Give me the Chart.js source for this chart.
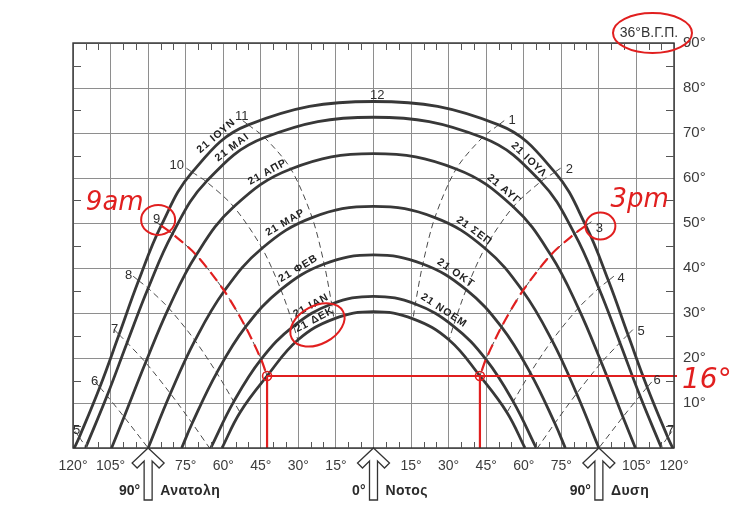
<!DOCTYPE html>
<html lang="el">
<head>
<meta charset="utf-8">
<title>Ηλιακός χάρτης 36° Β.Γ.Π.</title>
<script src="https://cdn.jsdelivr.net/npm/chart.js@4.4.1/dist/chart.umd.min.js"></script>
<style>
  html, body { margin: 0; padding: 0; background: #fff; }
  canvas { display: block; }
</style>
</head>
<body>
<canvas id="chart" width="740" height="522"></canvas>
<script>
// Sun path diagram for 36° N. Azimuth: - = east, + = west (0 = south). Hours 5..19 solar time.
const hourLabels = ['5', '6', '7', '8', '9', '10', '11', '12', '1', '2', '3', '4', '5', '6', '7'];

// azimuth / altitude of the sun at each hour (null = below horizon)
const junAz  = [-117.5, -109.3, -101.6, -93.8, -84.8, -72.4, -50.0, 0, 50.0, 72.4, 84.8, 93.8, 101.6, 109.3, 117.5];
const junAlt = [2.4, 13.5, 25.2, 37.2, 49.4, 61.3, 71.8, 77.0, 71.8, 61.3, 49.4, 37.2, 25.2, 13.5, 2.4];
const mayAz  = [null, -106.4, -98.4, -90.0, -80.3, -66.8, -43.5, 0, 43.5, 66.8, 80.3, 90.0, 98.4, 106.4, null];
const mayAlt = [null, 11.6, 23.4, 35.5, 47.6, 59.2, 69.0, 73.5, 69.0, 59.2, 47.6, 35.5, 23.4, 11.6, null];
const aprAz  = [null, -99.6, -91.0, -81.8, -70.8, -55.8, -33.0, 0, 33.0, 55.8, 70.8, 81.8, 91.0, 99.6, null];
const aprAlt = [null, 6.9, 19.0, 31.1, 42.9, 53.6, 62.0, 65.4, 62.0, 53.6, 42.9, 31.1, 19.0, 6.9, null];
const marAz  = [null, -90, -81.1, -71.3, -59.6, -44.5, -24.5, 0, 24.5, 44.5, 59.6, 71.3, 81.1, 90, null];
const marAlt = [null, 0, 12.1, 23.9, 34.9, 44.4, 51.2, 53.7, 51.2, 44.4, 34.9, 23.9, 12.1, 0, null];
const febAz  = [null, null, -72.4, -62.6, -51.1, -37.0, -19.7, 0, 19.7, 37.0, 51.1, 62.6, 72.4, null, null];
const febAlt = [null, null, 5.5, 16.7, 26.9, 35.2, 40.9, 42.9, 40.9, 35.2, 26.9, 16.7, 5.5, null, null];
const janAz  = [null, null, null, -55.8, -44.9, -31.9, -16.7, 0, 16.7, 31.9, 44.9, 55.8, null, null, null];
const janAlt = [null, null, null, 10.3, 19.7, 27.1, 32.0, 33.7, 32.0, 27.1, 19.7, 10.3, null, null, null];
const decAz  = [null, null, null, -53.3, -42.5, -30.2, -15.8, 0, 15.8, 30.2, 42.5, 53.3, null, null, null];
const decAlt = [null, null, null, 7.9, 16.0, 24.0, 28.7, 30.3, 28.7, 24.0, 16.0, 7.9, null, null, null];

// sunrise / sunset azimuth of each curve (June .. December)
const riseAz = [119.5, 115.0, 104.6, 90, 76.6, 65.0, 60.5];
// where an hour line meets the horizon below the last curve
const hourEndAz = [-114.5, null, -65.5, null, null, null, null, null, null, null, null, null, 65.5, null, 114.5];

// hour numbers
const hourLabelAz  = [-118.6, -111.4, -103.4, -97.8, -86.6, -78.6, -52.6, 1.5, 55.4, 78.2, 90.2, 98.9, 106.9, 113.3, 118.6];
const hourLabelAlt = [4.0, 14.9, 26.4, 38.4, 50.9, 62.7, 73.6, 78.3, 72.7, 62.0, 48.9, 37.6, 25.8, 15.1, 4.0];

// curve names, morning side and afternoon side
const amNames = ['21 ΙΟΥΝ', '21 ΜΑΙ', '21 ΑΠΡ', '21 ΜΑΡ', '21 ΦΕΒ', '21 ΙΑΝ', '21 ΔΕΚ'];
const amNameAz = [-61.0, -54.8, -41.0, -33.8, -28.6, -23.6, -22.2];
const pmNames = ['', '21 ΙΟΥΛ', '21 ΑΥΓ', '21 ΣΕΠ', '21 ΟΚΤ', '21 ΝΟΕΜ', ''];
const pmNameAz = [null, 60.2, 50.3, 38.6, 31.3, 26.6, null];

// axes
const azTicks = [-120, -105, -75, -60, -45, -30, -15, 15, 30, 45, 60, 75, 105, 120];
const altTicks = [10, 20, 30, 40, 50, 60, 70, 80, 90];
const dirAz = [-90, 0, 90];
const dirDeg = ['90°', '0°', '90°'];
const dirName = ['Ανατολη', 'Νοτος', 'Δυση'];
const latLabel = '36°Β.Γ.Π.';
const markLabel = '16°';

const curveAz  = [junAz, mayAz, aprAz, marAz, febAz, janAz, decAz];
const curveAlt = [junAlt, mayAlt, aprAlt, marAlt, febAlt, janAlt, decAlt];

const INK = '#383838';
const RED = '#e11f1f';
const FONT = '"Liberation Sans", Arial, sans-serif';
const AM9 = 4, PM3 = 10, NOON = 7, DEC = 6;

function curveData(k) {
  const pts = [];
  curveAz[k].forEach((v, i) => { if (v !== null) pts.push({ x: v, y: curveAlt[k][i] }); });
  if (pts[0].y > 0) pts.unshift({ x: -riseAz[k], y: 0 });
  if (pts[pts.length - 1].y > 0) pts.push({ x: riseAz[k], y: 0 });
  return pts;
}

function hourData(h) {
  const pts = [];
  curveAz.forEach((az, k) => { if (az[h] !== null) pts.push({ x: az[h], y: curveAlt[k][h] }); });
  if (hourEndAz[h] !== null) pts.push({ x: hourEndAz[h], y: 0 });
  return pts;
}

function line(data, extra) {
  return Object.assign({ data: data, showLine: true, pointRadius: 0, fill: false }, extra);
}

const datasets = [];
curveAz.forEach((_, k) => {
  datasets.push(line(curveData(k), { borderColor: INK, borderWidth: 2.8, tension: 0.4, order: 2 }));
});
const hourDs = {};
hourLabels.forEach((_, h) => {
  if (h === NOON) return;
  hourDs[h] = datasets.length;
  datasets.push(line(hourData(h), { borderColor: '#4a4a4a', borderWidth: 1, borderDash: [6, 4], tension: 0.3, order: 3 }));
});

// red marks: 9am and 3pm on 21 Dec
const p9 = { x: decAz[AM9], y: decAlt[AM9] };
const p3 = { x: decAz[PM3], y: decAlt[PM3] };
const redLine = { borderColor: RED, borderWidth: 2.2, order: 0 };
datasets.push(line(hourData(AM9), Object.assign({ borderDash: [11, 6], tension: 0.3 }, redLine)));
datasets.push(line(hourData(PM3), Object.assign({ borderDash: [11, 6], tension: 0.3 }, redLine)));
datasets.push(line([p9, { x: 121.2, y: p9.y }], Object.assign({ clip: { left: 0, top: 0, right: 12, bottom: 0 } }, redLine)));
datasets.push(line([p9, { x: p9.x, y: 0 }], redLine));
datasets.push(line([p3, { x: p3.x, y: 0 }], redLine));
datasets.push({ data: [p9, p3], showLine: false, pointRadius: 4.5, pointBorderColor: RED,
  pointBackgroundColor: 'rgba(0,0,0,0)', pointBorderWidth: 1.6, order: 0 });

// point on a drawn (bezier) curve at a given azimuth
function onCurve(chart, ds, az) {
  const px = chart.scales.x.getPixelForValue(az);
  const pts = chart.getDatasetMeta(ds).data;
  const bz = (c, t) => (1 - t) ** 3 * c[0] + 3 * (1 - t) ** 2 * t * c[1] + 3 * (1 - t) * t * t * c[2] + t ** 3 * c[3];
  for (let i = 0; i < pts.length - 1; i++) {
    const a = pts[i], b = pts[i + 1];
    if ((px - a.x) * (px - b.x) > 0) continue;
    const cx = [a.x, a.cp2x ?? a.x, b.cp1x ?? b.x, b.x];
    const cy = [a.y, a.cp2y ?? a.y, b.cp1y ?? b.y, b.y];
    const inc = b.x > a.x;
    let lo = 0, hi = 1;
    for (let n = 0; n < 40; n++) {
      const m = (lo + hi) / 2;
      if ((bz(cx, m) < px) === inc) lo = m; else hi = m;
    }
    const t = (lo + hi) / 2;
    const t1 = Math.max(0, t - 0.02), t2 = Math.min(1, t + 0.02);
    return { x: bz(cx, t), y: bz(cy, t), ang: Math.atan2(bz(cy, t2) - bz(cy, t1), bz(cx, t2) - bz(cx, t1)) };
  }
  return null;
}

const decor = {
  id: 'decor',
  afterDraw(chart) {
    const { ctx, chartArea: ca, scales: { x, y } } = chart;
    const seg = (x1, y1, x2, y2) => { ctx.beginPath(); ctx.moveTo(x1, y1); ctx.lineTo(x2, y2); ctx.stroke(); };
    const ellipse = (cx, cy, rx, ry, rot) => { ctx.beginPath(); ctx.ellipse(cx, cy, rx, ry, rot || 0, 0, Math.PI * 2); ctx.stroke(); };
    ctx.save();

    // frame and minor ticks
    ctx.strokeStyle = '#333';
    ctx.lineWidth = 1.4;
    ctx.strokeRect(ca.left, ca.top, ca.right - ca.left, ca.bottom - ca.top);
    ctx.lineWidth = 1;
    ctx.strokeStyle = '#555';
    for (let v = -115; v < 120; v += 5) {
      if (v % 15 === 0) continue;
      const px = Math.round(x.getPixelForValue(v)) + 0.5;
      seg(px, ca.bottom, px, ca.bottom - 6);
      seg(px, ca.top, px, ca.top + 7);
    }
    for (let v = 5; v < 90; v += 10) {
      const py = Math.round(y.getPixelForValue(v)) + 0.5;
      seg(ca.left, py, ca.left + 8, py);
      seg(ca.right, py, ca.right - 8, py);
    }

    // short stubs of the hour lines past the June curve
    ctx.strokeStyle = '#4a4a4a';
    Object.values(hourDs).forEach(ds => {
      const pts = chart.getDatasetMeta(ds).data;
      const a = pts[0], b = pts[1];
      const d = Math.hypot(a.x - b.x, a.y - b.y);
      seg(a.x, a.y, a.x + (a.x - b.x) / d * 7, a.y + (a.y - b.y) / d * 7);
    });

    // hour numbers
    ctx.fillStyle = '#2e2e2e';
    ctx.font = `13px ${FONT}`;
    ctx.textAlign = 'center';
    ctx.textBaseline = 'middle';
    hourLabels.forEach((t, h) => {
      ctx.fillText(t, x.getPixelForValue(hourLabelAz[h]), y.getPixelForValue(hourLabelAlt[h]));
    });

    // curve names along the curves
    ctx.textBaseline = 'alphabetic';
    ctx.font = `bold 10.5px ${FONT}`;
    ctx.letterSpacing = '1px';
    ctx.fillStyle = '#222';
    const putName = (k, az, name) => {
      const p = onCurve(chart, k, az);
      if (!p) return;
      ctx.save();
      ctx.translate(p.x, p.y);
      ctx.rotate(p.ang);
      ctx.fillText(name, 0, -4);
      ctx.restore();
    };
    amNames.forEach((n, k) => { if (n) putName(k, amNameAz[k], n); });
    pmNames.forEach((n, k) => { if (n) putName(k, pmNameAz[k], n); });
    ctx.letterSpacing = '0px';

    // compass arrows under the axis
    dirAz.forEach((az, i) => {
      const cx = x.getPixelForValue(az), top = ca.bottom;
      const shape = [[0, 0], [16, 15], [11, 20], [4, 13], [4, 52], [-4, 52], [-4, 13], [-11, 20], [-16, 15]];
      ctx.beginPath();
      shape.forEach(([dx, dy], j) => j ? ctx.lineTo(cx + dx, top + dy) : ctx.moveTo(cx + dx, top + dy));
      ctx.closePath();
      ctx.fillStyle = '#fff';
      ctx.fill();
      ctx.strokeStyle = '#333';
      ctx.lineWidth = 1.3;
      ctx.stroke();
      ctx.fillStyle = '#2a2a2a';
      ctx.font = `bold 14px ${FONT}`;
      ctx.textAlign = 'right';
      ctx.fillText(dirDeg[i], cx - 8, top + 47);
      ctx.textAlign = 'left';
      ctx.letterSpacing = '0.5px';
      ctx.fillText(dirName[i], cx + 12, top + 47);
      ctx.letterSpacing = '0px';
    });

    // latitude label
    ctx.fillStyle = '#333';
    ctx.font = `14px ${FONT}`;
    ctx.textAlign = 'center';
    ctx.fillText(latLabel, ca.right - 25, ca.top - 6);

    // red notes
    ctx.strokeStyle = RED;
    ctx.lineWidth = 2;
    ellipse(ca.right - 21.5, ca.top - 10, 39.5, 20);
    const l9 = { x: x.getPixelForValue(hourLabelAz[AM9]), y: y.getPixelForValue(hourLabelAlt[AM9]) };
    const l3 = { x: x.getPixelForValue(hourLabelAz[PM3]), y: y.getPixelForValue(hourLabelAlt[PM3]) };
    ellipse(l9.x + 1.5, l9.y + 1, 17, 15);
    ellipse(l3.x + 1, l3.y - 2, 15, 13.5);
    const pd = onCurve(chart, DEC, amNameAz[DEC]);
    if (pd) {
      ctx.save();
      ctx.translate(pd.x, pd.y);
      ctx.rotate(pd.ang);
      ellipse(0, -1, 29, 19);
      ctx.restore();
    }
    ctx.fillStyle = RED;
    ctx.font = 'italic 26px "DejaVu Sans", sans-serif';
    ctx.textAlign = 'right';
    ctx.fillText('9am', l9.x - 13, l9.y - 9);
    ctx.textAlign = 'left';
    ctx.fillText('3pm', l3.x + 11, l3.y - 21);
    ctx.font = 'italic 28px "DejaVu Sans", sans-serif';
    ctx.fillText(markLabel, ca.right + 8, y.getPixelForValue(p9.y) + 12);

    ctx.restore();
  }
};

new Chart(document.getElementById('chart').getContext('2d'), {
  type: 'scatter',
  data: { datasets: datasets },
  options: {
    responsive: false,
    animation: false,
    events: [],
    layout: { padding: { top: 43, left: 73, right: 0, bottom: 0 } },
    plugins: { legend: { display: false }, tooltip: { enabled: false } },
    scales: {
      x: {
        type: 'linear', min: -120, max: 120,
        afterFit: s => { s.height = 74; },
        border: { display: false },
        grid: { color: '#8e8e8e', lineWidth: 1, drawTicks: false },
        ticks: {
          stepSize: 15, padding: 10, autoSkip: false, maxRotation: 0,
          color: '#3c3c3c', font: { family: FONT, size: 14 },
          callback: v => azTicks.includes(v) ? Math.abs(v) + '°' : ''
        }
      },
      y: {
        type: 'linear', position: 'right', min: 0, max: 90,
        afterFit: s => { s.width = 66; },
        border: { display: false },
        grid: { color: '#8e8e8e', lineWidth: 1, drawTicks: false },
        ticks: {
          stepSize: 10, padding: 9,
          color: '#3c3c3c', font: { family: FONT, size: 15 },
          callback: v => altTicks.includes(v) ? v + '°' : ''
        }
      }
    }
  },
  plugins: [decor]
});
</script>
</body>
</html>
